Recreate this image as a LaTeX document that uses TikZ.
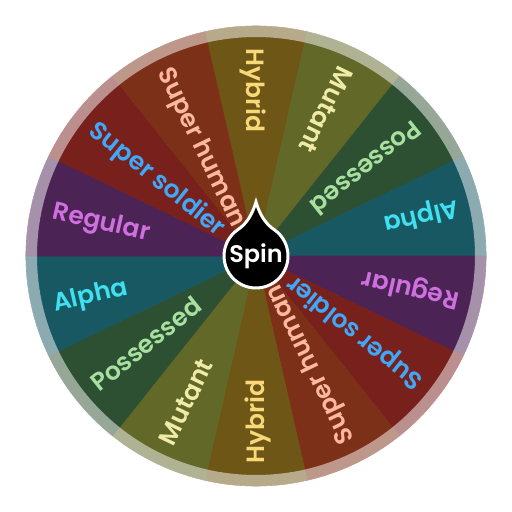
\documentclass[tikz,border=0pt]{standalone}
\usepackage{fontspec}
\newfontfamily\wf{Poppins SemiBold}
\definecolor{sHy}{RGB}{110,86,22}
\definecolor{sMu}{RGB}{98,104,40}
\definecolor{sPo}{RGB}{46,80,50}
\definecolor{sAl}{RGB}{24,88,98}
\definecolor{sRe}{RGB}{75,36,85}
\definecolor{sSo}{RGB}{120,32,28}
\definecolor{sSh}{RGB}{125,48,24}
\definecolor{tHy}{RGB}{248,216,120}
\definecolor{tMu}{RGB}{240,236,168}
\definecolor{tPo}{RGB}{168,224,160}
\definecolor{tAl}{RGB}{64,224,240}
\definecolor{tRe}{RGB}{208,112,224}
\definecolor{tSo}{RGB}{64,168,248}
\definecolor{tSh}{RGB}{255,184,160}
\tikzset{
  seglabel/.style={anchor=west, inner sep=0pt, text height=18pt, text depth=0pt,
    font=\wf\fontsize{25}{25}\selectfont},
  spinbtn/.style={draw=white, line width=3pt, fill=black}
}
\begin{document}
\begin{tikzpicture}[x=1pt,y=1pt]
\useasboundingbox (-256,-256) rectangle (256,256);
\foreach \i/\lab/\fc/\tc in {0/Hybrid/sHy/tHy,1/Mutant/sMu/tMu,2/Possessed/sPo/tPo,3/Alpha/sAl/tAl,4/Regular/sRe/tRe,5/Super soldier/sSo/tSo,6/Super human/sSh/tSh,7/Hybrid/sHy/tHy,8/Mutant/sMu/tMu,9/Possessed/sPo/tPo,10/Alpha/sAl/tAl,11/Regular/sRe/tRe,12/Super soldier/sSo/tSo,13/Super human/sSh/tSh}{
  \pgfmathsetmacro\c{90-\i*360/14}
  \pgfmathsetmacro\a{\c-360/28}
  \pgfmathsetmacro\b{\c+360/28}
  \pgfmathsetmacro\r{\c+180}
  \filldraw[fill=\fc, draw=\fc, line width=0.6pt, line join=round] (0,0) -- (\a:230) arc[start angle=\a, end angle=\b, radius=230] -- cycle;
}
\foreach \i/\lab/\tc in {0/Hybrid/tHy,1/Mutant/tMu,2/Possessed/tPo,3/Alpha/tAl,4/Regular/tRe,5/Super soldier/tSo,6/Super human/tSh,7/Hybrid/tHy,8/Mutant/tMu,9/Possessed/tPo,10/Alpha/tAl,11/Regular/tRe,12/Super soldier/tSo,13/Super human/tSh}{
  \pgfmathsetmacro\c{90-\i*360/14}
  \pgfmathsetmacro\r{\c+180}
  \node[seglabel, text=\tc, rotate=\r] (t\i) at (\c:208) {\lab};
}
\fill[white, opacity=0.5, even odd rule] (0,0) circle (230.5) (0,0) circle (219);
\draw[spinbtn] (125:32) .. controls (-8,33) and (-3,44) .. (0,54)
  .. controls (3,44) and (8,33) .. (55:32)
  arc[start angle=55, end angle=-235, radius=32] -- cycle;
\node[text=white, anchor=base, inner sep=0pt, font=\wf\fontsize{24}{24}\selectfont] (spin) at (0,-6) {Spin};
\end{tikzpicture}
\end{document}
